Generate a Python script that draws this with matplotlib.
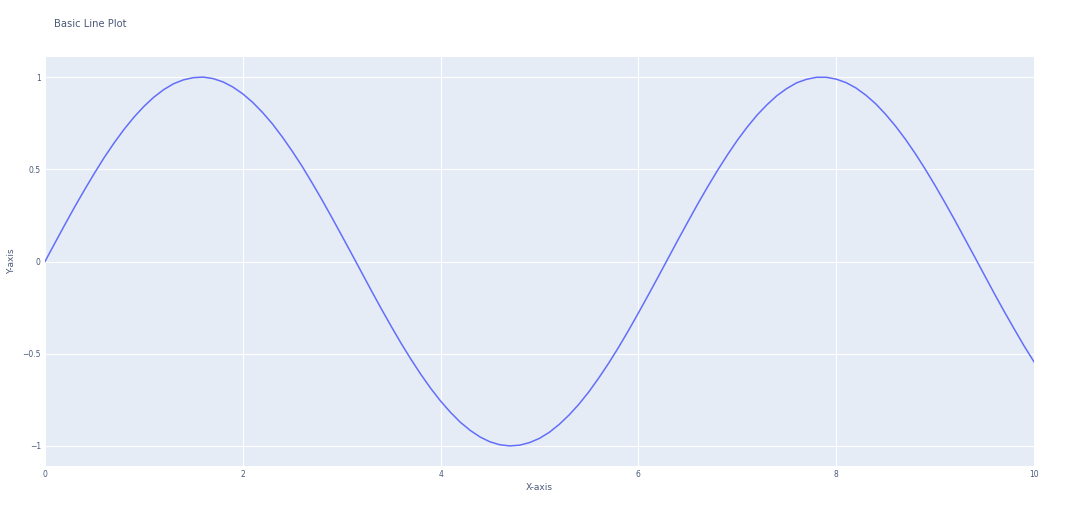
import matplotlib
matplotlib.use("Agg")
import matplotlib.pyplot as plt

x_values = [0.0, 0.1, 0.2, 0.3, 0.4, 0.5, 0.6, 0.7, 0.8, 0.9,
            1.0, 1.1, 1.2, 1.3, 1.4, 1.5, 1.6, 1.7, 1.8, 1.9,
            2.0, 2.1, 2.2, 2.3, 2.4, 2.5, 2.6, 2.7, 2.8, 2.9,
            3.0, 3.1, 3.2, 3.3, 3.4, 3.5, 3.6, 3.7, 3.8, 3.9,
            4.0, 4.1, 4.2, 4.3, 4.4, 4.5, 4.6, 4.7, 4.8, 4.9,
            5.0, 5.1, 5.2, 5.3, 5.4, 5.5, 5.6, 5.7, 5.8, 5.9,
            6.0, 6.1, 6.2, 6.3, 6.4, 6.5, 6.6, 6.7, 6.8, 6.9,
            7.0, 7.1, 7.2, 7.3, 7.4, 7.5, 7.6, 7.7, 7.8, 7.9,
            8.0, 8.1, 8.2, 8.3, 8.4, 8.5, 8.6, 8.7, 8.8, 8.9,
            9.0, 9.1, 9.2, 9.3, 9.4, 9.5, 9.6, 9.7, 9.8, 9.9, 10.0]
y_values = [0.000, 0.100, 0.199, 0.296, 0.389, 0.479, 0.565, 0.644, 0.717, 0.783,
            0.841, 0.891, 0.932, 0.964, 0.985, 0.997, 1.000, 0.992, 0.974, 0.946,
            0.909, 0.863, 0.808, 0.746, 0.675, 0.598, 0.516, 0.427, 0.335, 0.239,
            0.141, 0.042, -0.058, -0.158, -0.256, -0.351, -0.443, -0.530, -0.612, -0.688,
            -0.757, -0.818, -0.872, -0.916, -0.952, -0.978, -0.994, -1.000, -0.996, -0.982,
            -0.959, -0.926, -0.883, -0.832, -0.773, -0.706, -0.631, -0.551, -0.465, -0.374,
            -0.279, -0.182, -0.083, 0.017, 0.117, 0.215, 0.312, 0.405, 0.494, 0.578,
            0.657, 0.729, 0.794, 0.850, 0.899, 0.938, 0.969, 0.988, 0.999, 0.999,
            0.989, 0.970, 0.941, 0.902, 0.855, 0.798, 0.734, 0.663, 0.585, 0.501,
            0.412, 0.319, 0.223, 0.124, 0.025, -0.075, -0.175, -0.272, -0.366, -0.458, -0.544]
x_ticks = [0, 2, 4, 6, 8, 10]
y_ticks = [-1, -0.5, 0, 0.5, 1]
y_tick_labels = ["\u22121", "\u22120.5", "0", "0.5", "1"]

text_color = "#4a5a78"
fig = plt.figure(figsize=(10.8, 5.12), dpi=100)
ax = fig.add_axes([45/1080, 1 - 466/512, (1034-45)/1080, (466-57)/512])
ax.set_facecolor("#E5ECF6")
ax.plot(x_values, y_values, color="#636EFA", lw=1.1, solid_joinstyle="round", zorder=3)
ax.set_xlim(0, 10)
ax.set_ylim(-1.109, 1.109)
ax.set_xticks(x_ticks)
ax.set_yticks(y_ticks)
ax.set_yticklabels(y_tick_labels)
ax.grid(True, color="white", lw=0.8)
ax.set_axisbelow(True)
for s in ax.spines.values():
    s.set_visible(False)
ax.tick_params(length=0, labelsize=5.5, labelcolor=text_color, pad=3)
ax.set_xlabel("X-axis", fontsize=6.5, color=text_color)
ax.xaxis.set_label_coords(0.5, (466 - 487) / 409)
ax.xaxis.label.set_verticalalignment("center")
ax.set_ylabel("Y-axis", fontsize=6.5, color=text_color)
ax.yaxis.set_label_coords((12 - 45) / 989, 0.5)
ax.yaxis.label.set_verticalalignment("center")
fig.text(54/1080, 1 - 24/512, "Basic Line Plot", fontsize=7.2, color=text_color,
         ha="left", va="center")
fig.savefig("out.png", dpi=100, facecolor="white")
